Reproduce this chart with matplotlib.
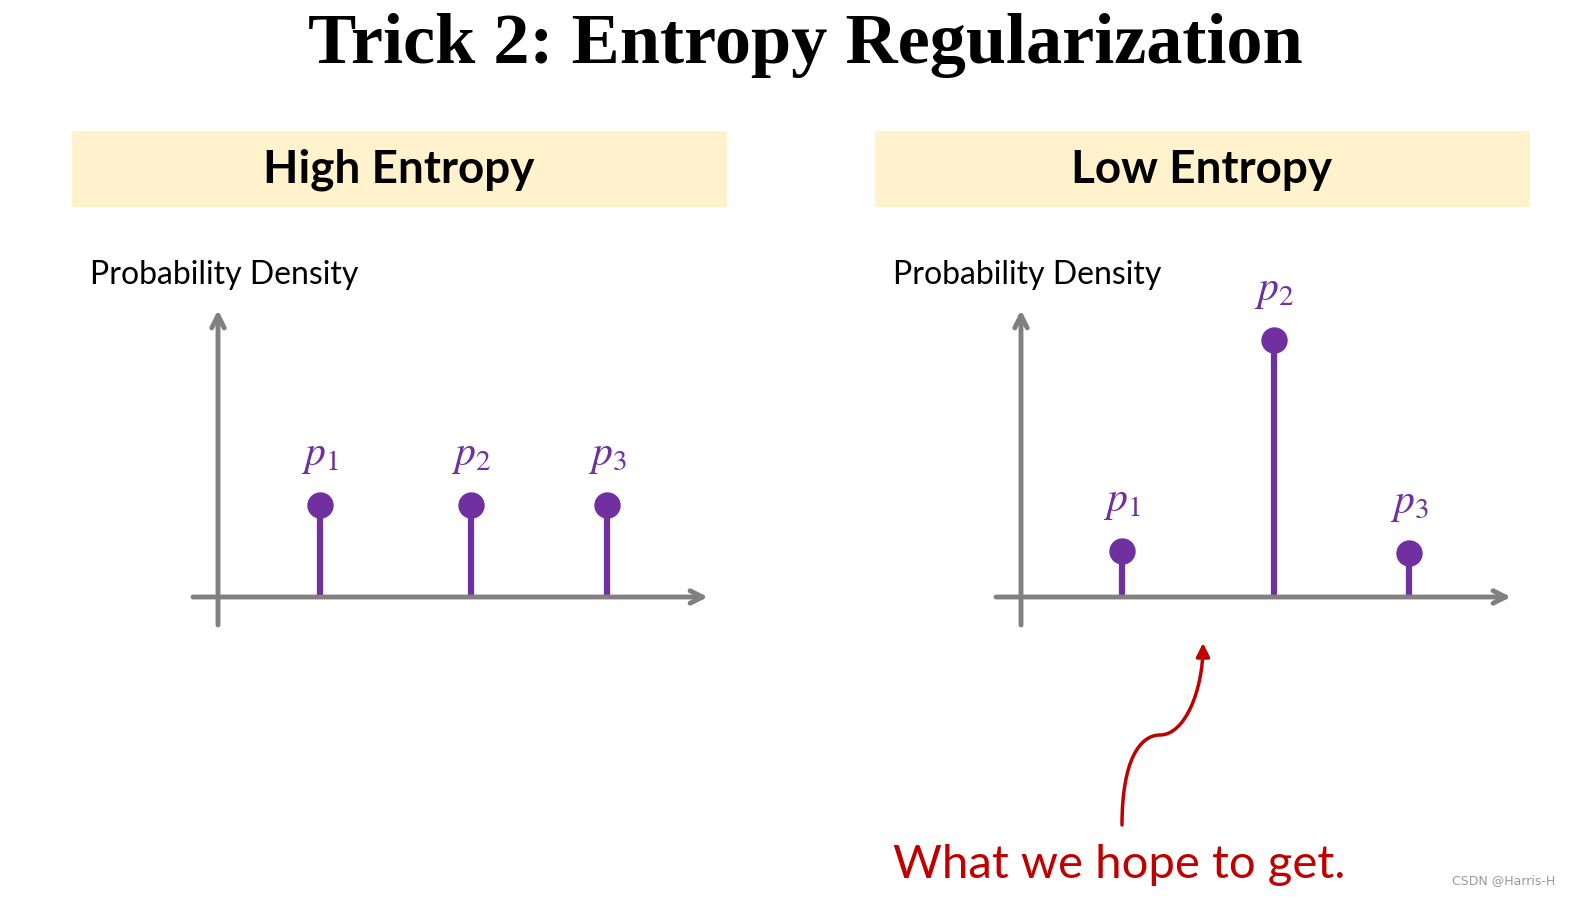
import matplotlib
matplotlib.use("Agg")
import matplotlib.pyplot as plt
from matplotlib.patches import Rectangle, FancyArrowPatch
from matplotlib.path import Path

plt.rcParams['mathtext.fontset'] = 'stix'

panel_titles = ["High Entropy", "Low Entropy"]
labels = ["$p_1$", "$p_2$", "$p_3$"]
positions_high = [1.02, 2.53, 3.89]
density_high = [0.92, 0.92, 0.92]
positions_low = [1.01, 2.53, 3.88]
density_low = [0.46, 2.57, 0.44]

W, H = 1570, 897
fig = plt.figure(figsize=(W/100, H/100), dpi=100)
ov = fig.add_axes([0, 0, 1, 1])
ov.set_xlim(0, W); ov.set_ylim(H, 0); ov.axis('off')

ov.text(805, 45, "Trick 2: Entropy Regularization", ha='center', va='center',
        fontsize=52, fontweight='bold', family='Liberation Serif')

grey = '#808080'
purple = '#7030A0'

def panel(x0, pos, dens, title):
    ov.add_patch(Rectangle((x0 - 121, 131), 655, 76, color='#FFF2CC', lw=0))
    ov.text(x0 - 121 + 327, 170, title, ha='center', va='center',
            fontsize=33, fontweight='bold', family='Lato')
    ov.text(x0 - 103, 275, "Probability Density", ha='left', va='center',
            fontsize=23, family='Lato')
    # axes: y-axis at x0+25 px, baseline at y=597
    left = x0
    ax = fig.add_axes([left / W, (H - 625) / H, 515 / W, 315 / H])
    ax.set_xlim(-0.25, 4.9); ax.set_ylim(-0.28, 2.87); ax.axis('off')
    ax.patch.set_alpha(0)
    for xy, xyt in [((0, 2.87), (0, -0.28)), ((4.9, 0), (-0.25, 0))]:
        ax.annotate("", xy=xy, xytext=xyt,
                    arrowprops=dict(arrowstyle="->,head_length=0.9,head_width=0.45",
                                    color=grey, lw=3.5, shrinkA=0, shrinkB=0))
    for x, d, lab in zip(pos, dens, labels):
        ax.plot([x, x], [0, d], color=purple, lw=4.5, solid_capstyle='butt')
        ax.plot([x], [d], 'o', color=purple, ms=18)
        ax.text(x, d + 0.5, lab, ha='center', va='center', fontsize=30, color=purple)
    return ax

panel(193, positions_high, density_high, panel_titles[0])
panel(996, positions_low, density_low, panel_titles[1])

red = '#C00000'
verts = [(1122, 825), (1122, 760), (1140, 735), (1160, 735),
         (1185, 735), (1203, 690), (1203, 643)]
codes = [Path.MOVETO] + [Path.CURVE4] * 6
arr = FancyArrowPatch(path=Path(verts, codes), arrowstyle="-|>,head_length=8,head_width=4",
                      color=red, lw=2.5)
ov.add_patch(arr)
ov.text(893, 865, "What we hope to get.", ha='left', va='center', fontsize=34,
        color=red, family='Lato')
ov.text(1555, 881, "CSDN @Harris-H", ha='right', va='center', fontsize=9,
        color='#999999')

fig.savefig("out.png", dpi=100)
